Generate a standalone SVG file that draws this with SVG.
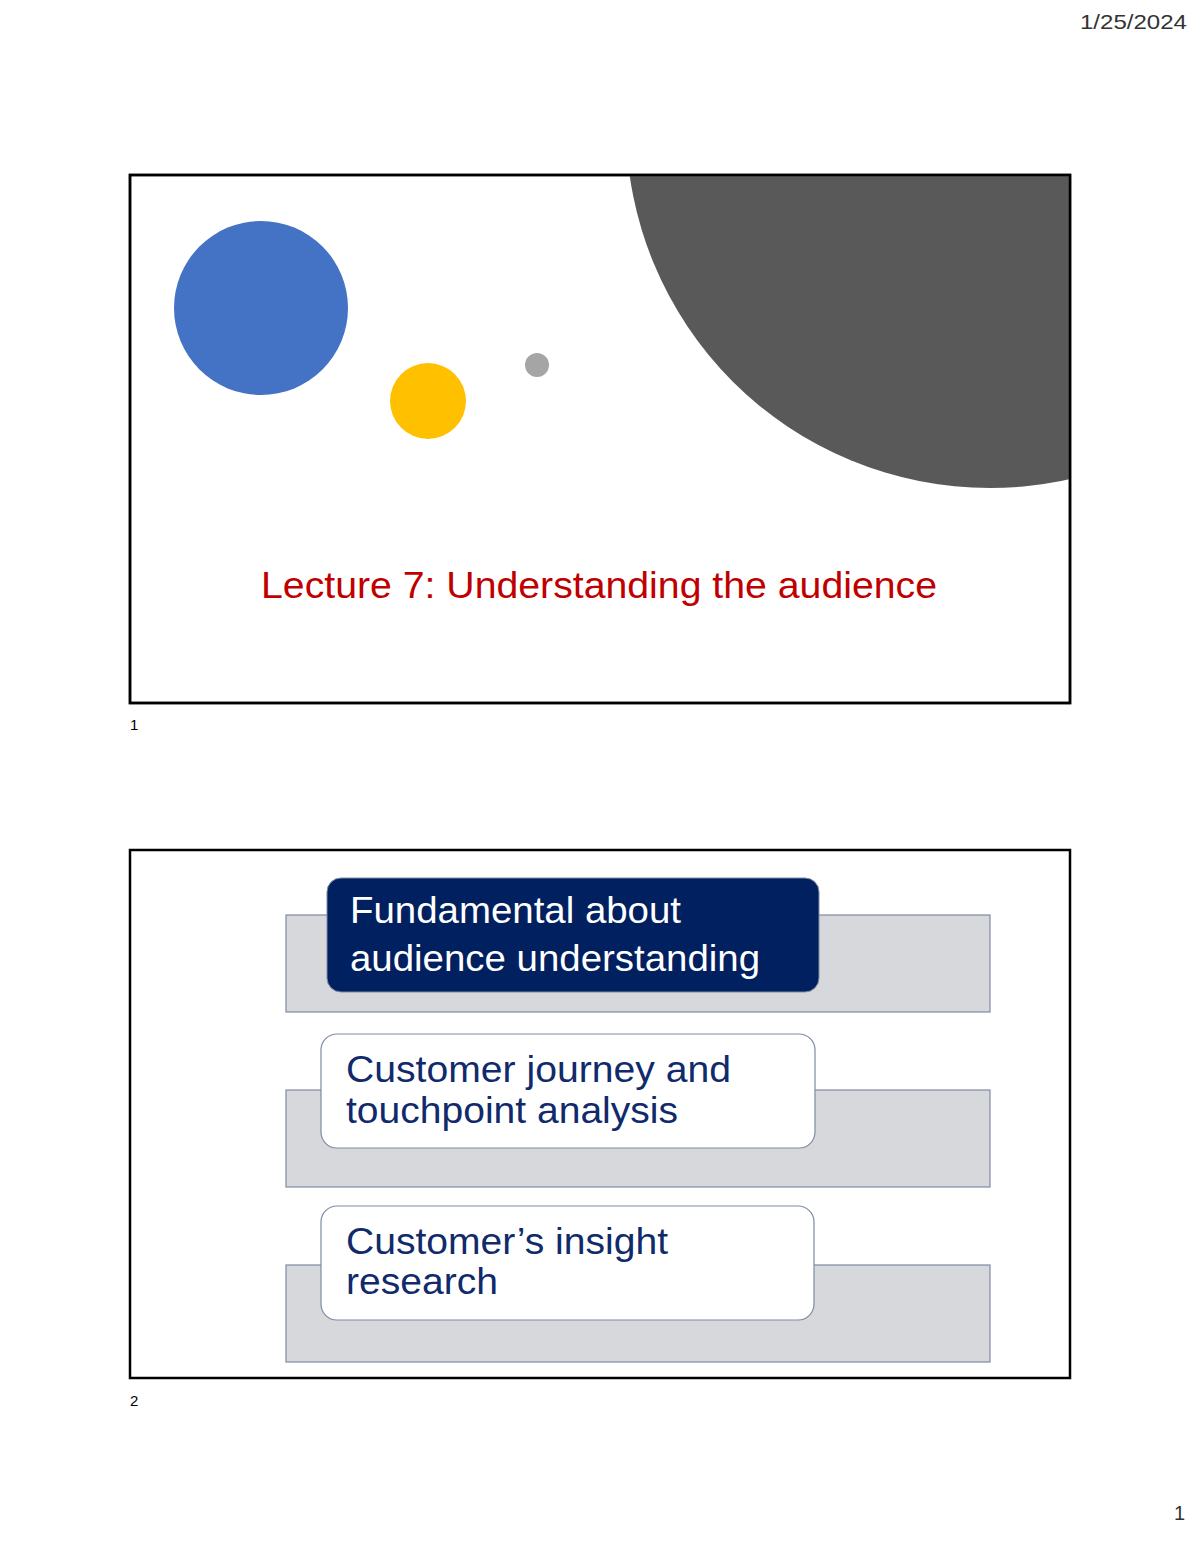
<svg xmlns="http://www.w3.org/2000/svg" width="1200" height="1553" viewBox="0 0 1200 1553">
<style>
.f{font-family:"Liberation Sans",Arial,sans-serif}
.slide{fill:#fff;stroke:#000;stroke-width:2.5}
.bar{fill:#d6d8dc;stroke:#7f8ba3;stroke-width:1.2}
.wb{fill:#fff;stroke:#7f8ba3;stroke-width:1.2}
.t{font-size:36px;fill:#102a6b}
</style>
<defs><clipPath id="c1"><rect x="130" y="175" width="940" height="528"/></clipPath></defs>
<rect width="1200" height="1553" fill="#fff"/>
<text class="f" x="1080" y="29" font-size="21" fill="#333" textLength="107" lengthAdjust="spacingAndGlyphs">1/25/2024</text>
<g id="slide1">
<rect class="slide" x="130" y="175" width="940" height="528"/>
<circle cx="990" cy="124" r="364" fill="#595959" clip-path="url(#c1)"/>
<circle cx="261" cy="308" r="87" fill="#4472c4"/>
<circle cx="428" cy="401" r="38" fill="#ffc000"/>
<circle cx="537" cy="365" r="12" fill="#a5a5a5"/>
<text class="f" x="261" y="598" font-size="37" fill="#c00000" textLength="676" lengthAdjust="spacingAndGlyphs">Lecture 7: Understanding the audience</text>
<rect x="130" y="175" width="940" height="528" fill="none" stroke="#000" stroke-width="2.5"/>
</g>
<text class="f" x="130" y="730" font-size="15" fill="#000">1</text>
<g id="slide2">
<rect class="slide" x="130" y="850" width="940" height="528"/>
<g id="item1">
<rect class="bar" x="286" y="915" width="704" height="97"/>
<rect x="327" y="878" width="492" height="114" rx="14" fill="#002060" stroke="#7f8ba3"/>
<text class="f" x="350" y="923" font-size="36" fill="#fff" textLength="331" lengthAdjust="spacingAndGlyphs">Fundamental about</text>
<text class="f" x="350" y="971" font-size="36" fill="#fff" textLength="410" lengthAdjust="spacingAndGlyphs">audience understanding</text>
</g>
<g id="item2">
<rect class="bar" x="286" y="1090" width="704" height="97"/>
<rect class="wb" x="321" y="1034" width="494" height="114" rx="16"/>
<text class="f t" x="346" y="1082" textLength="385" lengthAdjust="spacingAndGlyphs">Customer journey and</text>
<text class="f t" x="346" y="1123" textLength="332" lengthAdjust="spacingAndGlyphs">touchpoint analysis</text>
</g>
<g id="item3">
<rect class="bar" x="286" y="1265" width="704" height="97"/>
<rect class="wb" x="321" y="1206" width="493" height="114" rx="16"/>
<text class="f t" x="346" y="1254" textLength="322" lengthAdjust="spacingAndGlyphs">Customer’s insight</text>
<text class="f t" x="346" y="1294" textLength="152" lengthAdjust="spacingAndGlyphs">research</text>
</g>
</g>
<text class="f" x="130" y="1406" font-size="15" fill="#000">2</text>
<text class="f" x="1185" y="1520" font-size="20" fill="#333" text-anchor="end">1</text>
</svg>
